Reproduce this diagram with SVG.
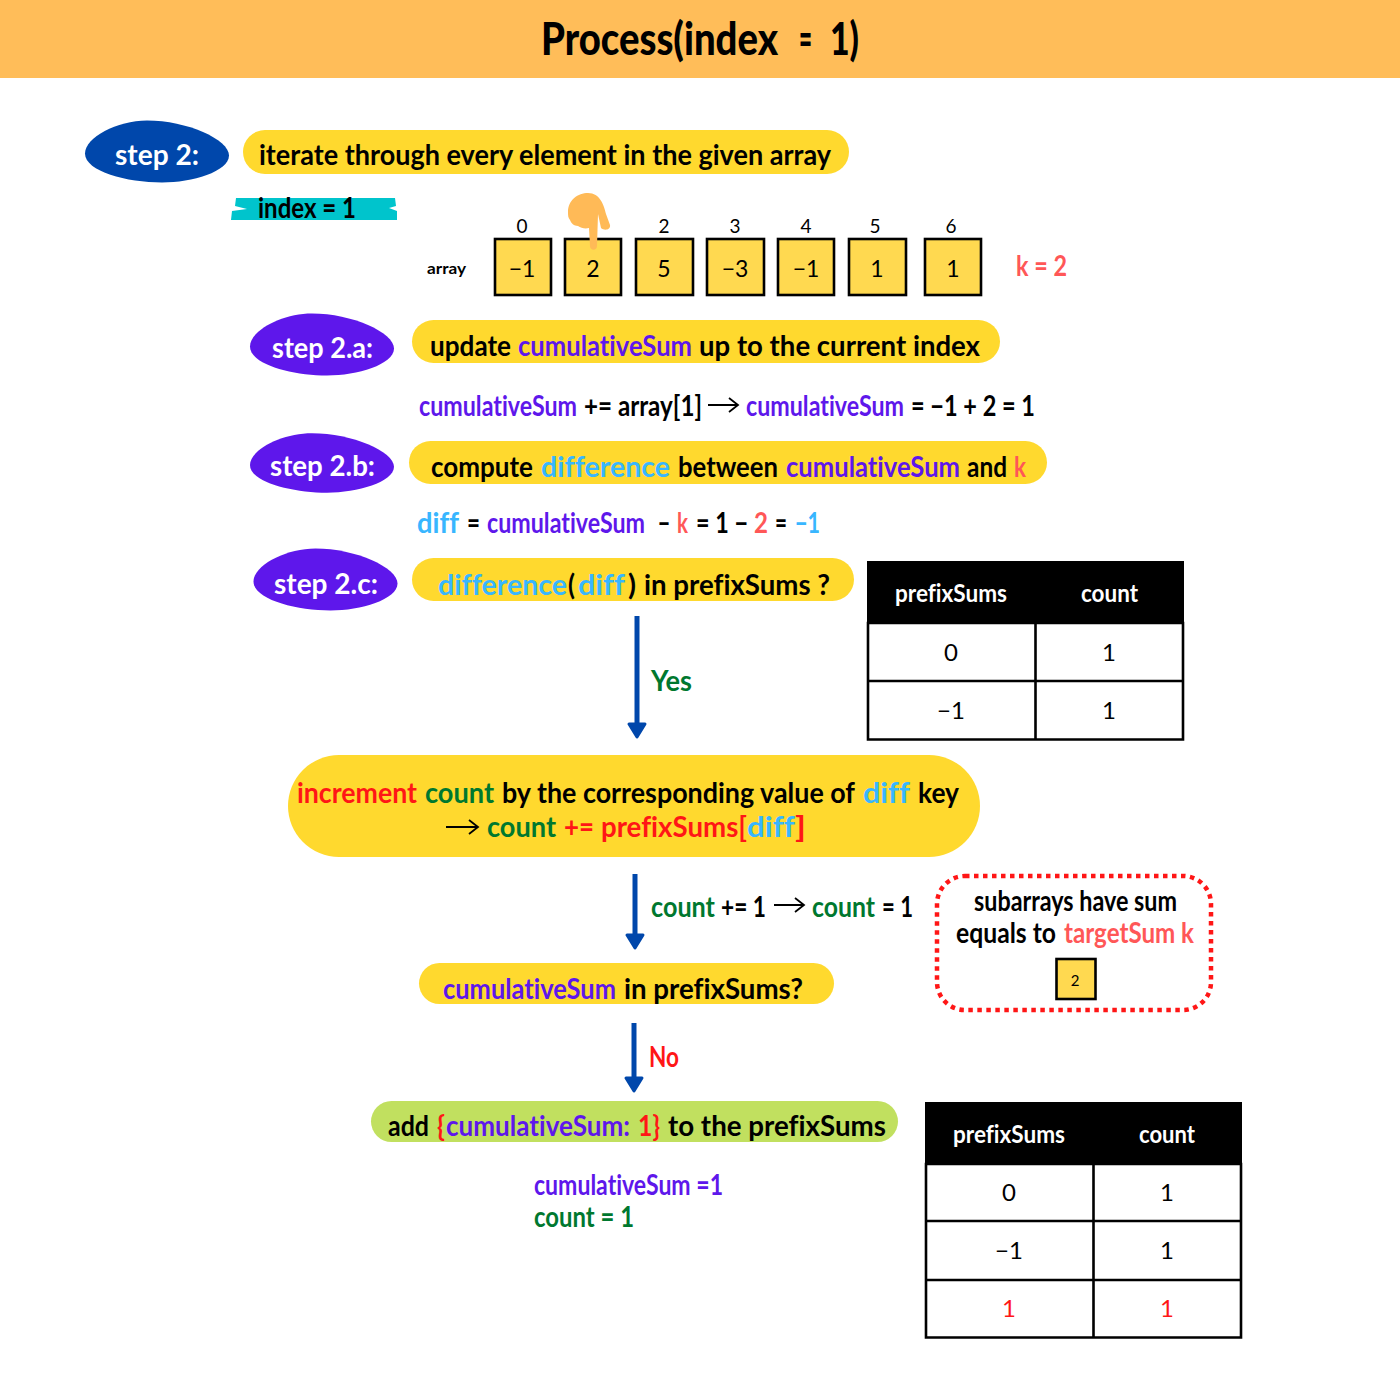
<svg xmlns="http://www.w3.org/2000/svg" width="1400" height="1400" viewBox="0 0 1400 1400">
<style>
text{font-family:"Lato","Liberation Sans",sans-serif;font-weight:700;font-size:28px;fill:#000;font-variant-ligatures:none}
.w{fill:#fff}.b{fill:#000}.p{fill:#5e17eb}.c{fill:#38b6ff}.k{fill:#ff5757}.g{fill:#00782f}.r{fill:#ff1616}
.pill{fill:#ffd92e}.cell{fill:#ffd950;stroke:#000;stroke-width:2.6}
.num{font-size:23px;font-weight:400;text-anchor:middle}
.idx{font-size:19px;font-weight:400;text-anchor:middle}
.grid{fill:#fff;stroke:#000;stroke-width:2.6}
.tv{font-size:24px;font-weight:400;text-anchor:middle}
.flow{fill:none;stroke:#0047ab;stroke-width:5}
.thin{fill:none;stroke:#000;stroke-width:1.8}
</style>
<defs>
<path id="blob" d="M-72 2C-72-14-40-31-10-31C30-31 72-12 72 4C72 20 35 31 5 31C-30 31-72 20-72 2Z"/>
<marker id="head" markerUnits="userSpaceOnUse" markerWidth="24" markerHeight="24" refX="4" refY="11" orient="auto" viewBox="0 0 24 24"><path d="M2 3L2 19L15 11Z" fill="#0047ab" stroke="#0047ab" stroke-width="3" stroke-linejoin="round"/></marker>
</defs>
<rect id="banner" x="0" y="0" width="1400" height="78" fill="#ffbd59"/>
<text id="title" y="55" style="font-size:46px;font-weight:900"><tspan x="541" textLength="237" lengthAdjust="spacingAndGlyphs">Process(index</tspan><tspan x="799" textLength="13" lengthAdjust="spacingAndGlyphs">=</tspan><tspan x="830" textLength="29" lengthAdjust="spacingAndGlyphs">1)</tspan></text>

<g id="step2"><use href="#blob" x="157" y="151.500" fill="#0047ab"/><text class="w" y="165"><tspan x="115" textLength="84" lengthAdjust="spacingAndGlyphs">step 2:</tspan></text></g>
<g id="iterate"><rect class="pill" x="243" y="130" width="606" height="44" rx="22"/><text y="165"><tspan x="259" textLength="572" lengthAdjust="spacingAndGlyphs">iterate through every element in the given array</tspan></text></g>
<g id="index-tape"><path fill="#00c4cc" d="M236 198H395L396 206L389 208L397 211V220H231L232 211L247 209L235 206Z"/><text y="218"><tspan x="258" textLength="98" lengthAdjust="spacingAndGlyphs">index = 1</tspan></text></g>

<g id="array">
<text y="274" style="font-size:16px"><tspan x="427" textLength="39" lengthAdjust="spacingAndGlyphs">array</tspan></text>
<rect class="cell" x="495" y="239" width="56" height="56"/><rect class="cell" x="565" y="239" width="56" height="56"/><rect class="cell" x="636" y="239" width="57" height="56"/><rect class="cell" x="707" y="239" width="57" height="56"/><rect class="cell" x="778" y="239" width="56" height="56"/><rect class="cell" x="849" y="239" width="57" height="56"/><rect class="cell" x="925" y="239" width="56" height="56"/>
<text class="idx" x="522" y="233">0</text><text class="idx" x="664" y="233">2</text><text class="idx" x="735" y="233">3</text><text class="idx" x="806" y="233">4</text><text class="idx" x="875" y="233">5</text><text class="idx" x="951" y="233">6</text>
<text class="num" x="522" y="277">−1</text><text class="num" x="593" y="277">2</text><text class="num" x="664" y="277">5</text><text class="num" x="735" y="277">−3</text><text class="num" x="806" y="277">−1</text><text class="num" x="877" y="277">1</text><text class="num" x="953" y="277">1</text>
<path id="hand" fill="#ffba57" d="M568 212C568 200 578 193 588 193C600 193 604 205 606 214L610 225C611 230 604 231 601 228L598 214L597 246C597 251 590 251 590 246L589 228C585 229 581 228 578 226C574 226 571 223 570 220C568 218 568 215 568 212Z"/>
</g>
<text id="k-label" class="k" y="276" style="font-weight:700"><tspan x="1016" textLength="51" lengthAdjust="spacingAndGlyphs">k = 2</tspan></text>

<g id="step2a"><use href="#blob" x="322" y="344.500" fill="#5e17eb"/><text class="w" y="358"><tspan x="272" textLength="101" lengthAdjust="spacingAndGlyphs">step 2.a:</tspan></text></g>
<g id="update"><rect class="pill" x="412" y="320" width="588" height="43" rx="21.500"/><text y="356"><tspan x="430" textLength="81" lengthAdjust="spacingAndGlyphs">update</tspan><tspan class="p" x="518" textLength="174" lengthAdjust="spacingAndGlyphs">cumulativeSum</tspan><tspan x="699" textLength="281" lengthAdjust="spacingAndGlyphs">up to the current index</tspan></text></g>
<text id="line-a" y="416"><tspan class="p" x="419" textLength="158" lengthAdjust="spacingAndGlyphs">cumulativeSum</tspan><tspan x="584" textLength="118" lengthAdjust="spacingAndGlyphs">+= array[1]</tspan><tspan class="p" x="746" textLength="158" lengthAdjust="spacingAndGlyphs">cumulativeSum</tspan><tspan x="911" textLength="124" lengthAdjust="spacingAndGlyphs">= −1 + 2 = 1</tspan></text>

<g id="step2b"><use href="#blob" x="322" y="463" fill="#5e17eb" transform="translate(322 463) scale(1 .96) translate(-322 -463)"/><text class="w" y="476"><tspan x="270" textLength="105" lengthAdjust="spacingAndGlyphs">step 2.b:</tspan></text></g>
<g id="compute"><rect class="pill" x="409" y="441" width="638" height="43" rx="21.500"/><text y="477"><tspan x="431" textLength="102" lengthAdjust="spacingAndGlyphs">compute</tspan><tspan class="c" x="541" textLength="129" lengthAdjust="spacingAndGlyphs">difference</tspan><tspan x="678" textLength="100" lengthAdjust="spacingAndGlyphs">between</tspan><tspan class="p" x="786" textLength="174" lengthAdjust="spacingAndGlyphs">cumulativeSum</tspan><tspan x="967" textLength="40" lengthAdjust="spacingAndGlyphs">and</tspan><tspan class="k" x="1014" textLength="12" lengthAdjust="spacingAndGlyphs">k</tspan></text></g>
<text id="line-b" y="533"><tspan class="c" x="417" textLength="42" lengthAdjust="spacingAndGlyphs">diff</tspan><tspan x="467" textLength="13" lengthAdjust="spacingAndGlyphs">=</tspan><tspan class="p" x="487" textLength="158" lengthAdjust="spacingAndGlyphs">cumulativeSum</tspan><tspan x="658" textLength="12" lengthAdjust="spacingAndGlyphs">−</tspan><tspan class="k" x="677" textLength="11" lengthAdjust="spacingAndGlyphs">k</tspan><tspan x="696" textLength="52" lengthAdjust="spacingAndGlyphs">= 1 −</tspan><tspan class="k" x="754" textLength="14" lengthAdjust="spacingAndGlyphs">2</tspan><tspan x="775" textLength="12" lengthAdjust="spacingAndGlyphs">=</tspan><tspan class="c" x="795" textLength="25" lengthAdjust="spacingAndGlyphs">−1</tspan></text>

<g id="step2c"><use href="#blob" x="325.500" y="579.500" fill="#5e17eb"/><text class="w" y="594"><tspan x="274" textLength="104" lengthAdjust="spacingAndGlyphs">step 2.c:</tspan></text></g>
<g id="diff-check"><rect class="pill" x="412" y="558" width="442" height="43" rx="21.500"/><text y="595"><tspan class="c" x="438" textLength="129" lengthAdjust="spacingAndGlyphs">difference</tspan><tspan x="568" textLength="7" lengthAdjust="spacingAndGlyphs">(</tspan><tspan class="c" x="578" textLength="47" lengthAdjust="spacingAndGlyphs">diff</tspan><tspan x="628" textLength="8" lengthAdjust="spacingAndGlyphs">)</tspan><tspan x="644" textLength="186" lengthAdjust="spacingAndGlyphs">in prefixSums ?</tspan></text></g>

<g id="table1">
<rect x="867" y="561" width="317" height="62" fill="#000"/>
<path class="grid" d="M868 623H1183V739.500H868ZM868 681H1183M1035.500 623V739.500"/>
<text class="w" y="602" style="font-size:24px"><tspan x="895" textLength="112" lengthAdjust="spacingAndGlyphs">prefixSums</tspan><tspan x="1081" textLength="57" lengthAdjust="spacingAndGlyphs">count</tspan></text>
<text class="tv" x="951" y="661">0</text><text class="tv" x="1109" y="661">1</text><text class="tv" x="951" y="719">−1</text><text class="tv" x="1109" y="719">1</text>
</g>
<text id="yes" class="g" y="691"><tspan x="651" textLength="41" lengthAdjust="spacingAndGlyphs">Yes</tspan></text>

<g id="increment"><rect class="pill" x="288" y="755" width="692" height="102" rx="51"/>
<text y="803"><tspan class="r" x="297" textLength="120" lengthAdjust="spacingAndGlyphs">increment</tspan><tspan class="g" x="425" textLength="69" lengthAdjust="spacingAndGlyphs">count</tspan><tspan x="502" textLength="353" lengthAdjust="spacingAndGlyphs">by the corresponding value of</tspan><tspan class="c" x="863" textLength="47" lengthAdjust="spacingAndGlyphs">diff</tspan><tspan x="918" textLength="41" lengthAdjust="spacingAndGlyphs">key</tspan></text>
<text y="837"><tspan class="g" x="487" textLength="69" lengthAdjust="spacingAndGlyphs">count</tspan><tspan class="r" x="564" textLength="30" lengthAdjust="spacingAndGlyphs">+=</tspan><tspan class="r" x="601" textLength="146" lengthAdjust="spacingAndGlyphs">prefixSums[</tspan><tspan class="c" x="747" textLength="48" lengthAdjust="spacingAndGlyphs">diff</tspan><tspan class="r" x="795" textLength="11" lengthAdjust="spacingAndGlyphs">]</tspan></text></g>

<text id="line-count" y="917"><tspan class="g" x="651" textLength="64" lengthAdjust="spacingAndGlyphs">count</tspan><tspan x="721" textLength="45" lengthAdjust="spacingAndGlyphs">+= 1</tspan><tspan class="g" x="812" textLength="63" lengthAdjust="spacingAndGlyphs">count</tspan><tspan x="882" textLength="31" lengthAdjust="spacingAndGlyphs">= 1</tspan></text>

<g id="subarrays"><rect x="937" y="876" width="274" height="134" rx="28" fill="none" stroke="#ff1616" stroke-width="4.500" stroke-dasharray="4.500 4.500"/>
<text y="911"><tspan x="974" textLength="203" lengthAdjust="spacingAndGlyphs">subarrays have sum</tspan></text>
<text y="943"><tspan x="956" textLength="100" lengthAdjust="spacingAndGlyphs">equals to</tspan><tspan class="k" x="1064" textLength="130" lengthAdjust="spacingAndGlyphs">targetSum k</tspan></text>
<rect class="cell" x="1056.500" y="959" width="39" height="40"/><text class="idx" x="1075" y="986" style="font-size:15px">2</text></g>

<g id="cum-check"><rect class="pill" x="419" y="963" width="415" height="41" rx="20.500"/><text y="999"><tspan class="p" x="443" textLength="173" lengthAdjust="spacingAndGlyphs">cumulativeSum</tspan><tspan x="624" textLength="179" lengthAdjust="spacingAndGlyphs">in prefixSums?</tspan></text></g>
<text id="no" class="r" y="1067"><tspan x="649" textLength="30" lengthAdjust="spacingAndGlyphs">No</tspan></text>

<g id="add"><rect x="371" y="1101" width="527" height="41" rx="20.500" fill="#c1e05f"/><text y="1136"><tspan x="388" textLength="41" lengthAdjust="spacingAndGlyphs">add</tspan><tspan class="r" x="437" textLength="8" lengthAdjust="spacingAndGlyphs">{</tspan><tspan class="p" x="446" textLength="184" lengthAdjust="spacingAndGlyphs">cumulativeSum:</tspan><tspan class="r" x="638" textLength="22" lengthAdjust="spacingAndGlyphs">1}</tspan><tspan x="668" textLength="218" lengthAdjust="spacingAndGlyphs">to the prefixSums</tspan></text></g>
<text id="result-sum" class="p" y="1195"><tspan x="534" textLength="189" lengthAdjust="spacingAndGlyphs">cumulativeSum =1</tspan></text>
<text id="result-count" class="g" y="1227"><tspan x="534" textLength="100" lengthAdjust="spacingAndGlyphs">count = 1</tspan></text>

<g id="table2">
<rect x="925" y="1102" width="317" height="62" fill="#000"/>
<path class="grid" d="M926 1164H1241V1337.500H926ZM926 1221H1241M926 1280H1241M1093.500 1164V1337.500"/>
<text class="w" y="1143" style="font-size:24px"><tspan x="953" textLength="112" lengthAdjust="spacingAndGlyphs">prefixSums</tspan><tspan x="1139" textLength="56" lengthAdjust="spacingAndGlyphs">count</tspan></text>
<text class="tv" x="1009" y="1201">0</text><text class="tv" x="1167" y="1201">1</text><text class="tv" x="1009" y="1259">−1</text><text class="tv" x="1167" y="1259">1</text><text class="tv r" x="1009" y="1317">1</text><text class="tv r" x="1167" y="1317">1</text>
</g>

<g id="connectors">
<path class="flow" d="M637 616V726" marker-end="url(#head)"/>
<path class="flow" d="M635 874V937" marker-end="url(#head)"/>
<path class="flow" d="M634 1023V1080" marker-end="url(#head)"/>
<path class="thin" d="M708 405H737M729 398L738 405L729 412"/>
<path class="thin" d="M446 827H477M469 820L478 827L469 834"/>
<path class="thin" d="M774 905H803M795 898L804 905L795 912"/>
</g>
</svg>
